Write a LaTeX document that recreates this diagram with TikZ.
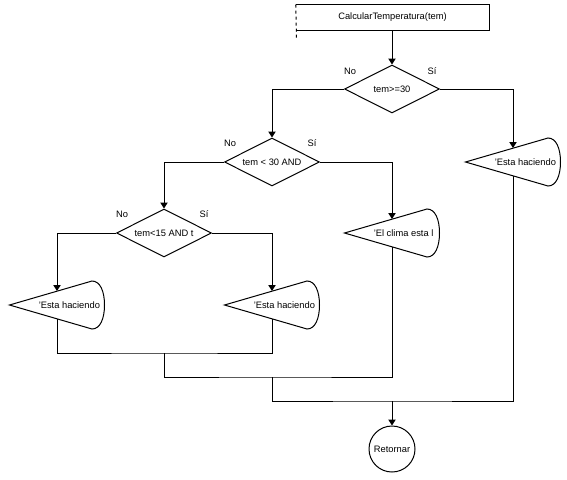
\documentclass[tikz,border=0pt]{standalone}
\usepackage{fontspec}
\setmainfont{Liberation Sans}
\usetikzlibrary{shapes.geometric,arrows.meta}
\tikzset{
  line/.style={draw=black,line width=0.75pt},
  arrow/.style={line,-{Triangle[width=5.5pt,length=4.5pt]}},
  txt/.style={inner sep=0pt,font=\fontsize{7}{8.4}\selectfont,text=black},
  decision/.style={line,shape=diamond,inner sep=0pt,minimum width=71.25pt,minimum height=36pt,fill=white},
  startbox/.style={inner sep=0pt,minimum width=144.75pt,minimum height=18.75pt,font=\fontsize{7}{8.4}\selectfont},
  endcircle/.style={line,shape=circle,inner sep=0pt,minimum size=34.5pt,font=\fontsize{7}{8.4}\selectfont},
  dashline/.style={line,dash pattern=on 2.25pt off 2.25pt},
  display/.pic={
    \draw[line,fill=white] (-47.5,0) -- (35,-24) .. controls (43,-24) and (47.5,-14) .. (47.5,0)
       .. controls (47.5,14) and (43,24) .. (35,24) -- cycle;
    \begin{scope}
      \clip (-47.5,0) -- (35,-24) .. controls (43,-24) and (47.5,-14) .. (47.5,0)
         .. controls (47.5,14) and (43,24) .. (35,24) -- cycle;
      \node[txt,anchor=west] (-t) at (-18.5,0) {#1};
    \end{scope}
    \coordinate (-in) at (0,-14);
    \coordinate (-out) at (0,14);
  }
}
\begin{document}
\begin{tikzpicture}[x=0.75pt,y=-0.75pt]
\useasboundingbox (0,0) rectangle (567,479);

% start box
\node[startbox] (start) at (392.5,17.5) {CalcularTemperatura(tem)};
\draw[line] (start.north west) -- (start.north east) -- (start.south east) -- (start.south west);
\coordinate (sd) at (296.5,38);
\draw[dashline] (start.north west) -- (sd);

% decisions
\node[decision] (c1) at (392,89) {};
\node[txt] (c1t) at (c1) {tem>=30};
\node[decision] (c2) at (272,162) {};
\node[txt] (c2t) at (c2) {tem < 30 AND};
\node[decision] (c3) at (164,233) {};
\node[txt] (c3t) at (c3) {tem<15 AND t};

% branch labels
\node[txt] (c1no) at (350,71) {No};
\node[txt] (c1si) at (432,71) {Sí};
\node[txt] (c2no) at (230,143.5) {No};
\node[txt] (c2si) at (312,143.5) {Sí};
\node[txt] (c3no) at (122,214.5) {No};
\node[txt] (c3si) at (204,214.5) {Sí};

% displays
\pic (d1) at (513,162) {display={'Esta haciendo}};
\pic (d2) at (392,233) {display={'El clima esta l}};
\pic (d3) at (57,305) {display={'Esta haciendo}};
\pic (d4) at (272,305) {display={'Esta haciendo}};

% end
\node[endcircle] (ret) at (392,449) {Retornar};

% connectors
\draw[arrow] (c1 |- start.south) -- (c1.north);
\draw[arrow] (c1.west) -| (c2.north);
\draw[arrow] (c1.east) -| (d1-in);
\draw[arrow] (c2.west) -| (c3.north);
\draw[arrow] (c2.east) -| (d2-in);
\draw[arrow] (c3.west) -| (d3-in);
\draw[arrow] (c3.east) -| (d4-in);

% joins
\coordinate (j1) at (164,353);
\coordinate (j2) at (272,377);
\coordinate (j3) at (392,401);
\draw[line] (d3-out) |- (j1) -| (d4-out);
\draw[line] (j1) |- (j2) -| (d2-out);
\draw[line] (j2) |- (j3) -| (d1-out);
\draw[arrow] (j3) -- (ret.north);
\end{tikzpicture}
\end{document}
